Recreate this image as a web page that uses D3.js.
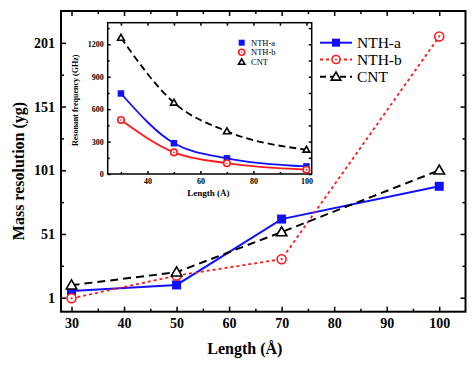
<!DOCTYPE html>
<html>
<head>
<meta charset="utf-8">
<script src="https://cdn.jsdelivr.net/npm/d3@7"></script>
<style>
  body { margin: 0; background: #fff; }
  svg { display: block; }
  svg text { font-family: "Liberation Serif", "Times New Roman", serif; }
</style>
</head>
<body>
<svg id="chart" width="474" height="365"></svg>
<script>
// --- Data -------------------------------------------------------------
const lengths = [30, 50, 70, 100];

// mass resolution (yg), main plot
const massNTHa = [6.3, 11, 62.7, 88.4];
const massNTHb = [0.5, 18.3, 31.2, 206];
const massCNT = [10.8, 21, 52.5, 101];

// resonant frequency (GHz), inset
const freqNTHa = [745, 285, 145, 70];
const freqNTHb = [500, 200, 100, 40];
const freqCNT = [1260, 660, 395, 225];

const mainYTicks = [1, 51, 101, 151, 201];
const mainXTicks = [30, 40, 50, 60, 70, 80, 90, 100];
const insetYTicks = [0, 300, 600, 900, 1200];
const insetXTicks = [40, 60, 80, 100];

const series = [
  { name: 'NTH-a', mass: massNTHa, freq: freqNTHa, color: '#1010ff', marker: 'square', dash: null, width: 2 },
  { name: 'NTH-b', mass: massNTHb, freq: freqNTHb, color: '#ff1a1a', marker: 'circle', dash: '3,3', width: 1.8 },
  { name: 'CNT', mass: massCNT, freq: freqCNT, color: '#000', marker: 'triangle', dash: '8,5', width: 2 },
];

const FONT = 'Liberation Serif, Times New Roman, serif';
const svg = d3.select('#chart');

// --- markers ----------------------------------------------------------
function drawMarker(sel, type, color, size) {
  if (type === 'square') {
    sel.append('rect')
      .attr('x', -size / 2).attr('y', -size / 2)
      .attr('width', size).attr('height', size)
      .attr('fill', color);
  } else if (type === 'circle') {
    sel.append('circle').attr('r', size / 2)
      .attr('fill', '#fff').attr('stroke', color).attr('stroke-width', 1.6);
    sel.append('circle').attr('r', size / 8).attr('fill', color);
  } else {
    const s = size / 2;
    sel.append('path')
      .attr('d', `M0,${-s * 1.05}L${s * 1.05},${s * 0.75}L${-s * 1.05},${s * 0.75}Z`)
      .attr('fill', '#fff').attr('stroke', color).attr('stroke-width', 1.6);
  }
}

// --- Main plot --------------------------------------------------------
const M = { left: 61, right: 465.5, top: 11, bottom: 311.7 };
const x = d3.scaleLinear().domain([28, 105]).range([M.left, M.right]);
const y = d3.scaleLinear().domain([-10, 226]).range([M.bottom, M.top]);

const minorX = d3.range(35, 105, 10);
const minorY = d3.range(26, 226, 50);

function tickAxis(axis, scale, ticks, size, labels) {
  return axis(scale).tickValues(ticks).tickSizeInner(-size).tickSizeOuter(0)
    .tickFormat(labels ? d3.format('d') : '');
}

function styleAxis(g, fontSize) {
  g.attr('font-family', FONT);
  g.select('.domain').remove();
  g.selectAll('.tick line').attr('stroke', '#000').attr('stroke-width', 1.5);
  g.selectAll('.tick text').attr('font-size', fontSize).attr('font-weight', 'bold')
    .attr('fill', '#000');
}

// bottom
svg.append('g').attr('transform', `translate(0,${M.bottom})`)
  .call(tickAxis(d3.axisBottom, x, mainXTicks, 5, true).tickPadding(6))
  .call(g => styleAxis(g, 14));
svg.append('g').attr('transform', `translate(0,${M.bottom})`)
  .call(tickAxis(d3.axisBottom, x, minorX, 3, false)).call(g => styleAxis(g, 14));
// top
svg.append('g').attr('transform', `translate(0,${M.top})`)
  .call(tickAxis(d3.axisTop, x, mainXTicks, 5, false)).call(g => styleAxis(g, 14));
svg.append('g').attr('transform', `translate(0,${M.top})`)
  .call(tickAxis(d3.axisTop, x, minorX, 3, false)).call(g => styleAxis(g, 14));
// left
svg.append('g').attr('transform', `translate(${M.left},0)`)
  .call(tickAxis(d3.axisLeft, y, mainYTicks, 5, true).tickPadding(6))
  .call(g => styleAxis(g, 14));
svg.append('g').attr('transform', `translate(${M.left},0)`)
  .call(tickAxis(d3.axisLeft, y, minorY, 3, false)).call(g => styleAxis(g, 14));
// right
svg.append('g').attr('transform', `translate(${M.right},0)`)
  .call(tickAxis(d3.axisRight, y, mainYTicks, 5, false)).call(g => styleAxis(g, 14));
svg.append('g').attr('transform', `translate(${M.right},0)`)
  .call(tickAxis(d3.axisRight, y, minorY, 3, false)).call(g => styleAxis(g, 14));

svg.append('rect')
  .attr('x', M.left).attr('y', M.top)
  .attr('width', M.right - M.left).attr('height', M.bottom - M.top)
  .attr('fill', 'none').attr('stroke', '#000').attr('stroke-width', 2);

const mainLine = d3.line().x((d, i) => x(lengths[i])).y(d => y(d));

series.forEach(s => {
  svg.append('path')
    .attr('d', mainLine(s.mass))
    .attr('fill', 'none')
    .attr('stroke', s.color)
    .attr('stroke-width', s.width)
    .attr('stroke-dasharray', s.dash);
});
series.forEach(s => {
  s.mass.forEach((v, i) => {
    const g = svg.append('g').attr('transform', `translate(${x(lengths[i])},${y(v)})`);
    drawMarker(g, s.marker, s.color, s.marker === 'triangle' ? 10 : 9);
  });
});

// axis titles
svg.append('text')
  .attr('x', x(63)).attr('y', 354)
  .attr('text-anchor', 'middle')
  .attr('font-family', FONT)
  .attr('font-size', 16).attr('font-weight', 'bold')
  .text('Length (Å)');
svg.append('text')
  .attr('transform', 'translate(24,171) rotate(-90)')
  .attr('text-anchor', 'middle')
  .attr('font-family', FONT)
  .attr('font-size', 16).attr('font-weight', 'bold')
  .text('Mass resolution (yg)');

// main legend
const legend = svg.append('g');
series.forEach((s, i) => {
  const ly = [42.7, 59.5, 76.7][i];
  legend.append('line')
    .attr('x1', 320).attr('x2', 352).attr('y1', ly).attr('y2', ly)
    .attr('stroke', s.color).attr('stroke-width', s.width)
    .attr('stroke-dasharray', s.marker === 'triangle' ? '6,4' : s.dash);
  const g = legend.append('g').attr('transform', `translate(336,${ly})`);
  drawMarker(g, s.marker, s.color, s.marker === 'triangle' ? 9 : 8);
  legend.append('text')
    .attr('x', 357).attr('y', ly + 5)
    .attr('font-family', FONT)
    .attr('font-size', 15.5)
    .text(s.name);
});

// --- Inset ------------------------------------------------------------
const I = { left: 107.7, right: 311.7, top: 22.7, bottom: 174 };
const xi = d3.scaleLinear().domain([25, 102]).range([I.left, I.right]);
const yi = d3.scaleLinear().domain([0, 1400]).range([I.bottom, I.top]);

svg.append('rect')
  .attr('x', I.left).attr('y', I.top)
  .attr('width', I.right - I.left).attr('height', I.bottom - I.top)
  .attr('fill', '#fff');

const insetMinorY = d3.range(150, 1400, 300);
const insetMinorX = d3.range(30, 101, 20);

svg.append('g').attr('transform', `translate(0,${I.bottom})`)
  .call(tickAxis(d3.axisBottom, xi, insetXTicks, 3, true).tickPadding(4))
  .call(g => styleAxis(g, 8));
svg.append('g').attr('transform', `translate(0,${I.bottom})`)
  .call(tickAxis(d3.axisBottom, xi, insetMinorX, 2, false)).call(g => styleAxis(g, 8));
svg.append('g').attr('transform', `translate(0,${I.top})`)
  .call(tickAxis(d3.axisTop, xi, insetXTicks.concat(insetMinorX), 3, false)).call(g => styleAxis(g, 8));
svg.append('g').attr('transform', `translate(${I.left},0)`)
  .call(tickAxis(d3.axisLeft, yi, insetYTicks, 3, true).tickPadding(4))
  .call(g => styleAxis(g, 8));
svg.append('g').attr('transform', `translate(${I.left},0)`)
  .call(tickAxis(d3.axisLeft, yi, insetMinorY, 2, false)).call(g => styleAxis(g, 8));
svg.append('g').attr('transform', `translate(${I.right},0)`)
  .call(tickAxis(d3.axisRight, yi, insetYTicks.concat(insetMinorY), 3, false)).call(g => styleAxis(g, 8));

svg.append('rect')
  .attr('x', I.left).attr('y', I.top)
  .attr('width', I.right - I.left).attr('height', I.bottom - I.top)
  .attr('fill', 'none').attr('stroke', '#000').attr('stroke-width', 1.5);

const insetLine = d3.line()
  .x((d, i) => xi(lengths[i])).y(d => yi(d))
  .curve(d3.curveMonotoneX);

const insetStyle = { 'NTH-a': null, 'NTH-b': null, 'CNT': '7,4' };
series.forEach(s => {
  svg.append('path')
    .attr('d', insetLine(s.freq))
    .attr('fill', 'none')
    .attr('stroke', s.color)
    .attr('stroke-width', 1.8)
    .attr('stroke-dasharray', insetStyle[s.name]);
});
series.forEach(s => {
  s.freq.forEach((v, i) => {
    const g = svg.append('g').attr('transform', `translate(${xi(lengths[i])},${yi(v)})`);
    drawMarker(g, s.marker, s.color, 6.5);
  });
});

svg.append('text')
  .attr('x', xi(63)).attr('y', 196)
  .attr('text-anchor', 'middle')
  .attr('font-family', FONT)
  .attr('font-size', 9).attr('font-weight', 'bold')
  .text('Length (Å)');
svg.append('text')
  .attr('transform', `translate(78,${(I.top + I.bottom) / 2 + 2}) rotate(-90)`)
  .attr('text-anchor', 'middle')
  .attr('font-family', FONT)
  .attr('font-size', 8).attr('font-weight', 'bold')
  .text('Resonant frequency (GHz)');

// inset legend
series.forEach((s, i) => {
  const ly = [42.7, 52.3, 62][i];
  const g = svg.append('g').attr('transform', `translate(241.7,${ly})`);
  drawMarker(g, s.marker, s.color, 6);
  svg.append('text')
    .attr('x', 251).attr('y', ly + 3)
    .attr('font-family', FONT)
    .attr('font-size', 8.5)
    .text(s.name);
});
</script>
</body>
</html>
